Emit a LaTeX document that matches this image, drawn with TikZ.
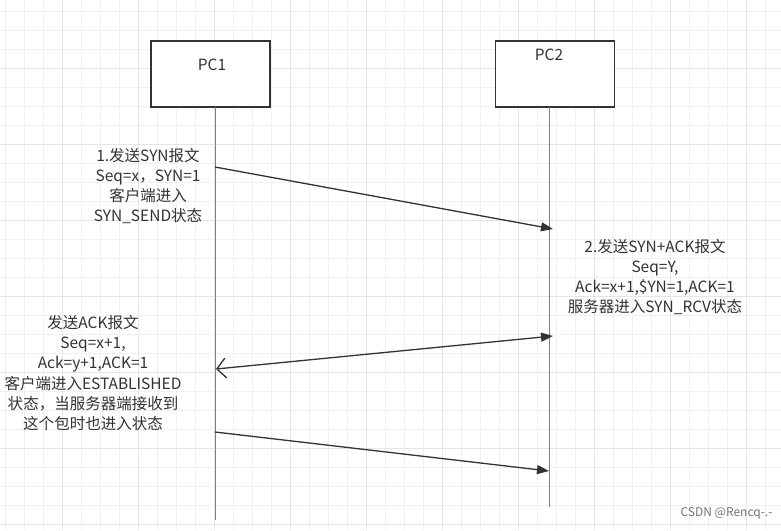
\documentclass[tikz,border=0pt]{standalone}
\usepackage{fontspec}
\setmainfont{Noto Sans CJK SC}
\usetikzlibrary{arrows.meta}
\begin{document}
\begin{tikzpicture}[x=1pt,y=-1pt,
  box/.style={draw=black!80,line width=1.5pt,fill=white,minimum width=119pt,minimum height=66pt,inner sep=0pt},
  life/.style={draw=black!50,line width=1pt},
  msg/.style={draw=black!80,line width=1.3pt,-{Triangle[length=12pt,width=9pt]}},
  lbl/.style={align=center,font=\fontsize{15.5pt}{20.3pt}\selectfont,text=black!80,inner sep=0pt}]
\useasboundingbox (0,0) rectangle (781,530);
\fill[white] (0,0) rectangle (781,530);
\foreach \x in {5,24,...,781} \draw[black!6,line width=0.8pt] (\x,0) -- (\x,530);
\foreach \y in {11,30,...,530} \draw[black!6,line width=0.8pt] (0,\y) -- (781,\y);
\foreach \x in {62,138,...,781} \draw[black!10,line width=1pt] (\x,0) -- (\x,530);
\foreach \y in {68,144,...,530} \draw[black!10,line width=1pt] (0,\y) -- (781,\y);
% lifelines
\coordinate (e1) at (215,520);
\coordinate (e2) at (549,507);
\node[box] (pc1) at (210.5,74) {};
\node[box] (pc2) at (555,74) {};
\node[lbl,font=\fontsize{15.5pt}{17pt}\selectfont] (t1) at (212,65) {PC1};
\node[lbl,font=\fontsize{15.5pt}{17pt}\selectfont] (t2) at (549,55) {PC2};
\draw[life] (215,107) -- (e1);
\draw[life] (549,107) -- (e2);
% messages
\coordinate (a1) at (215,167); \coordinate (b1) at (553,229);
\coordinate (a2) at (553,336); \coordinate (b2) at (216,369);
\coordinate (a3) at (215,432); \coordinate (b3) at (549,471);
\draw[msg] (a1) -- (b1);
\draw[draw=black!80,line width=1.3pt,{Straight Barb[length=9pt,width=20pt,line width=1.3pt]}-{Triangle[length=12pt,width=9pt]}] (b2) -- (a2);
\draw[msg] (a3) -- (b3);
% labels
\node[lbl] (l1) at (148,186) {1.发送SYN报文\\Seq=x，SYN=1\\客户端进入\\SYN\_SEND状态};
\node[lbl] (l2) at (655,277) {2.发送SYN+ACK报文\\Seq=Y,\\Ack=x+1,\$YN=1,ACK=1\\服务器进入SYN\_RCV状态};
\node[lbl] (l3) at (93,373) {发送ACK报文\\Seq=x+1,\\Ack=y+1,ACK=1\\客户端进入ESTABLISHED\\状态，当服务器端接收到\\这个包时也进入状态};
\node[anchor=east,font=\fontsize{12pt}{13pt}\selectfont,text=black!55] (wm) at (776,513) {CSDN @Rencq-.-};
\end{tikzpicture}
\end{document}
